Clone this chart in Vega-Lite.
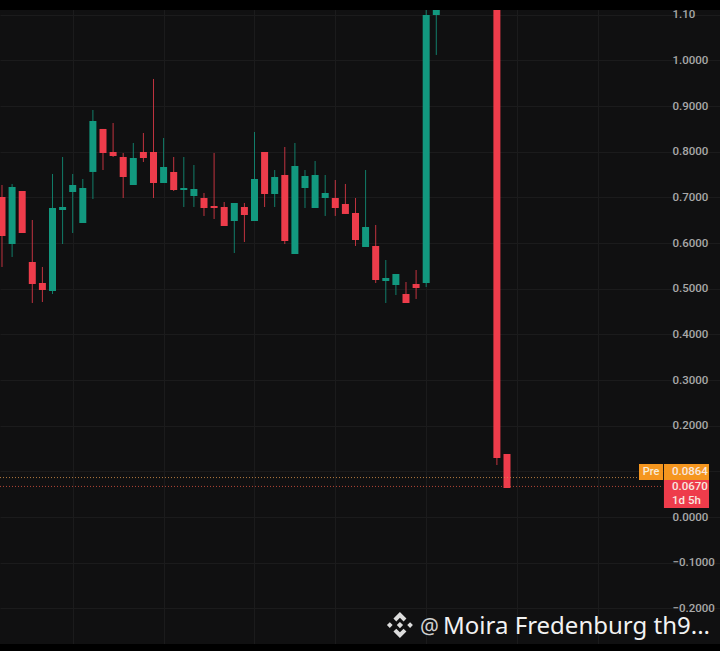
{
  "$schema": "https://vega.github.io/schema/vega-lite/v6.json",
  "width": 720,
  "height": 651,
  "padding": 0,
  "autosize": "none",
  "background": "#101011",
  "view": {"stroke": null},
  "datasets": {
    "candles": [
      {"t": 0, "dir": "down", "open": 0.7010, "high": 0.7273, "low": 0.5477, "close": 0.6156},
      {"t": 1, "dir": "up", "open": 0.5980, "high": 0.7295, "low": 0.5696, "close": 0.7229},
      {"t": 2, "dir": "down", "open": 0.7141, "high": 0.7141, "low": 0.6221, "close": 0.6221},
      {"t": 3, "dir": "down", "open": 0.5586, "high": 0.6506, "low": 0.4688, "close": 0.5104},
      {"t": 4, "dir": "down", "open": 0.5126, "high": 0.5477, "low": 0.4710, "close": 0.4973},
      {"t": 5, "dir": "up", "open": 0.4951, "high": 0.7514, "low": 0.4885, "close": 0.6769},
      {"t": 6, "dir": "up", "open": 0.6725, "high": 0.7886, "low": 0.5980, "close": 0.6791},
      {"t": 7, "dir": "up", "open": 0.7119, "high": 0.7514, "low": 0.6221, "close": 0.7273},
      {"t": 8, "dir": "up", "open": 0.6440, "high": 0.7404, "low": 0.6440, "close": 0.7207},
      {"t": 9, "dir": "up", "open": 0.7558, "high": 0.8916, "low": 0.6966, "close": 0.8675},
      {"t": 10, "dir": "down", "open": 0.8500, "high": 0.8500, "low": 0.7601, "close": 0.7974},
      {"t": 11, "dir": "down", "open": 0.7996, "high": 0.8631, "low": 0.7886, "close": 0.7908},
      {"t": 12, "dir": "down", "open": 0.7886, "high": 0.7974, "low": 0.6988, "close": 0.7448},
      {"t": 13, "dir": "up", "open": 0.7273, "high": 0.8193, "low": 0.7273, "close": 0.7864},
      {"t": 14, "dir": "down", "open": 0.7996, "high": 0.8412, "low": 0.7777, "close": 0.7864},
      {"t": 15, "dir": "down", "open": 0.7996, "high": 0.9595, "low": 0.6988, "close": 0.7317},
      {"t": 16, "dir": "up", "open": 0.7317, "high": 0.8302, "low": 0.7317, "close": 0.7667},
      {"t": 17, "dir": "down", "open": 0.7558, "high": 0.7886, "low": 0.7141, "close": 0.7163},
      {"t": 18, "dir": "up", "open": 0.7163, "high": 0.7886, "low": 0.6791, "close": 0.7207},
      {"t": 19, "dir": "up", "open": 0.7032, "high": 0.7711, "low": 0.6791, "close": 0.7185},
      {"t": 20, "dir": "down", "open": 0.6988, "high": 0.7098, "low": 0.6594, "close": 0.6769},
      {"t": 21, "dir": "down", "open": 0.6813, "high": 0.7974, "low": 0.6528, "close": 0.6769},
      {"t": 22, "dir": "down", "open": 0.6791, "high": 0.6900, "low": 0.6375, "close": 0.6375},
      {"t": 23, "dir": "up", "open": 0.6484, "high": 0.6878, "low": 0.5783, "close": 0.6878},
      {"t": 24, "dir": "down", "open": 0.6791, "high": 0.6878, "low": 0.6024, "close": 0.6616},
      {"t": 25, "dir": "up", "open": 0.6484, "high": 0.8434, "low": 0.6484, "close": 0.7404},
      {"t": 26, "dir": "down", "open": 0.7996, "high": 0.7996, "low": 0.6791, "close": 0.7076},
      {"t": 27, "dir": "up", "open": 0.7076, "high": 0.7601, "low": 0.6791, "close": 0.7448},
      {"t": 28, "dir": "down", "open": 0.7492, "high": 0.8105, "low": 0.5980, "close": 0.6046},
      {"t": 29, "dir": "up", "open": 0.5761, "high": 0.8193, "low": 0.5761, "close": 0.7689},
      {"t": 30, "dir": "up", "open": 0.7207, "high": 0.7601, "low": 0.6769, "close": 0.7470},
      {"t": 31, "dir": "up", "open": 0.6769, "high": 0.7799, "low": 0.6769, "close": 0.7492},
      {"t": 32, "dir": "up", "open": 0.6988, "high": 0.7492, "low": 0.6594, "close": 0.7098},
      {"t": 33, "dir": "down", "open": 0.6988, "high": 0.7382, "low": 0.6594, "close": 0.6769},
      {"t": 34, "dir": "down", "open": 0.6857, "high": 0.7295, "low": 0.6638, "close": 0.6638},
      {"t": 35, "dir": "down", "open": 0.6659, "high": 0.6988, "low": 0.5937, "close": 0.6068},
      {"t": 36, "dir": "up", "open": 0.5915, "high": 0.7601, "low": 0.5915, "close": 0.6353},
      {"t": 37, "dir": "down", "open": 0.5937, "high": 0.6397, "low": 0.5126, "close": 0.5192},
      {"t": 38, "dir": "up", "open": 0.5170, "high": 0.5630, "low": 0.4688, "close": 0.5236},
      {"t": 39, "dir": "up", "open": 0.5082, "high": 0.5323, "low": 0.4863, "close": 0.5323},
      {"t": 40, "dir": "down", "open": 0.4885, "high": 0.5148, "low": 0.4688, "close": 0.4688},
      {"t": 41, "dir": "down", "open": 0.5104, "high": 0.5411, "low": 0.4776, "close": 0.5017},
      {"t": 42, "dir": "up", "open": 0.5126, "high": 1.125, "low": 0.5038, "close": 1.0997},
      {"t": 43, "dir": "up", "open": 1.0997, "high": 1.125, "low": 1.0121, "close": 1.125},
      {"t": 49, "dir": "down", "open": 1.125, "high": 1.13, "low": 0.1139, "close": 0.1292},
      {"t": 50, "dir": "down", "open": 0.138, "high": 0.138, "low": 0.0635, "close": 0.0635}
    ]
  },
  "layer": [
    {
      "data": {"name": "candles"},
      "mark": {"type": "rule", "strokeWidth": 1, "opacity": 0.8},
      "encoding": {
        "x": {
          "field": "t",
          "type": "quantitative",
          "scale": {"domain": [-0.198, 71.09], "nice": false, "zero": false, "padding": 0},
          "axis": {
            "title": null,
            "values": [7, 16, 25, 33, 42, 51, 59],
            "labels": false,
            "ticks": false,
            "domain": false,
            "grid": true,
            "gridColor": "#1b1b1c",
            "gridWidth": 1
          }
        },
        "y": {
          "field": "high",
          "type": "quantitative",
          "scale": {"domain": [-0.2935, 1.1325], "nice": false, "zero": false},
          "axis": {
            "title": null,
            "orient": "right",
            "offset": -48,
            "values": [-0.2, -0.1, 0, 0.1, 0.2, 0.3, 0.4, 0.5, 0.6, 0.7, 0.8, 0.9, 1, 1.1],
            "labelExpr": "datum.value == 0.1 ? '' : datum.value == 1.1 ? '1.10' : replace(format(datum.value, '.4f'), '-', '−')",
            "labelFont": "Roboto",
            "labelFontSize": 11.5,
            "labelFontWeight": 500,
            "labelColor": "#a8a8a8",
            "labelPadding": 0,
            "labelOverlap": false,
            "ticks": false,
            "domain": false,
            "grid": true,
            "gridColor": "#1b1b1c",
            "gridWidth": 1
          }
        },
        "y2": {"field": "low"},
        "color": {
          "field": "dir",
          "type": "nominal",
          "scale": {"domain": ["up", "down"], "range": ["#12987f", "#ee3c4b"]},
          "legend": null
        }
      }
    },
    {
      "data": {"name": "candles"},
      "mark": {"type": "bar", "size": 7},
      "encoding": {
        "x": {"field": "t", "type": "quantitative"},
        "y": {"field": "open", "type": "quantitative"},
        "y2": {"field": "close"},
        "color": {"field": "dir", "type": "nominal", "legend": null}
      }
    },
    {
      "data": {"values": [{"side": "top", "from": 1.1325, "to": 1.1106}, {"side": "bottom", "from": -0.2782, "to": -0.2935}]},
      "mark": {"type": "rect", "color": "#000000"},
      "encoding": {
        "x": {"datum": -0.198},
        "x2": {"datum": 71.09},
        "y": {"field": "from", "type": "quantitative"},
        "y2": {"field": "to"}
      }
    },
    {
      "data": {"values": [{"price": 0.0864, "kind": "pre"}, {"price": 0.067, "kind": "last"}]},
      "mark": {"type": "rule", "strokeWidth": 1, "strokeDash": [1, 2], "opacity": 0.8},
      "encoding": {
        "x": {"datum": -0.198},
        "x2": {"datum": 65.45},
        "y": {"field": "price", "type": "quantitative"},
        "stroke": {
          "field": "kind",
          "type": "nominal",
          "scale": {"domain": ["pre", "last"], "range": ["#d9944a", "#d8503f"]},
          "legend": null
        }
      }
    },
    {
      "data": {"values": [
        {"kind": "pre", "x0": 63.07, "x1": 65.45, "top": 0.1161, "bottom": 0.0811},
        {"kind": "pre", "x0": 65.54, "x1": 70.0, "top": 0.1161, "bottom": 0.0811},
        {"kind": "last", "x0": 65.54, "x1": 70.0, "top": 0.0811, "bottom": 0.0197}
      ]},
      "mark": {"type": "rect"},
      "encoding": {
        "x": {"field": "x0", "type": "quantitative"},
        "x2": {"field": "x1"},
        "y": {"field": "top", "type": "quantitative"},
        "y2": {"field": "bottom"},
        "fill": {
          "field": "kind",
          "type": "nominal",
          "scale": {"domain": ["pre", "last"], "range": ["#f5961f", "#ee3c4b"]},
          "legend": null
        }
      }
    },
    {
      "data": {"values": [{"label": "Pre"}]},
      "mark": {"type": "text", "font": "Roboto", "fontSize": 11, "fontWeight": 500, "color": "#f8ecd8", "align": "center", "baseline": "middle"},
      "encoding": {"x": {"datum": 64.26}, "y": {"datum": 0.0986}, "text": {"field": "label"}}
    },
    {
      "data": {"values": [
        {"label": "0.0864", "at": 0.0986},
        {"label": "0.0670", "at": 0.0657},
        {"label": "1d 5h", "at": 0.035}
      ]},
      "mark": {"type": "text", "font": "Roboto", "fontSize": 11.5, "fontWeight": 500, "color": "#f8e8e0", "align": "left", "baseline": "middle"},
      "encoding": {"x": {"datum": 66.34}, "y": {"field": "at", "type": "quantitative"}, "text": {"field": "label"}}
    },
    {
      "data": {"values": [{"label": "logo"}]},
      "mark": {
        "type": "point",
        "filled": true,
        "opacity": 1,
        "color": "#dcdcdc",
        "size": 676,
        "shape": "M0,-0.24L0.24,0L0,0.24L-0.24,0ZM-0.78,-0.22L-0.56,0L-0.78,0.22L-1,0ZM0.78,-0.22L1,0L0.78,0.22L0.56,0ZM0,-1L0.5,-0.5L0.28,-0.28L0,-0.56L-0.28,-0.28L-0.5,-0.5ZM0,1L-0.5,0.5L-0.28,0.28L0,0.56L0.28,0.28L0.5,0.5Z"
      },
      "encoding": {"x": {"datum": 39.4}, "y": {"datum": -0.2366}}
    },
    {
      "data": {"values": [{"label": "@"}]},
      "mark": {"type": "text", "font": "Noto Sans", "fontSize": 21, "color": "#cfcfcf", "align": "left", "baseline": "alphabetic"},
      "encoding": {"x": {"datum": 41.39}, "y": {"datum": -0.2563}, "text": {"field": "label"}}
    },
    {
      "data": {"values": [{"label": "Moira Fredenburg th9..."}]},
      "mark": {"type": "text", "font": "Noto Sans", "fontSize": 24, "color": "#f2f2f2", "align": "left", "baseline": "alphabetic"},
      "encoding": {"x": {"datum": 43.67}, "y": {"datum": -0.2563}, "text": {"field": "label"}}
    }
  ]
}
